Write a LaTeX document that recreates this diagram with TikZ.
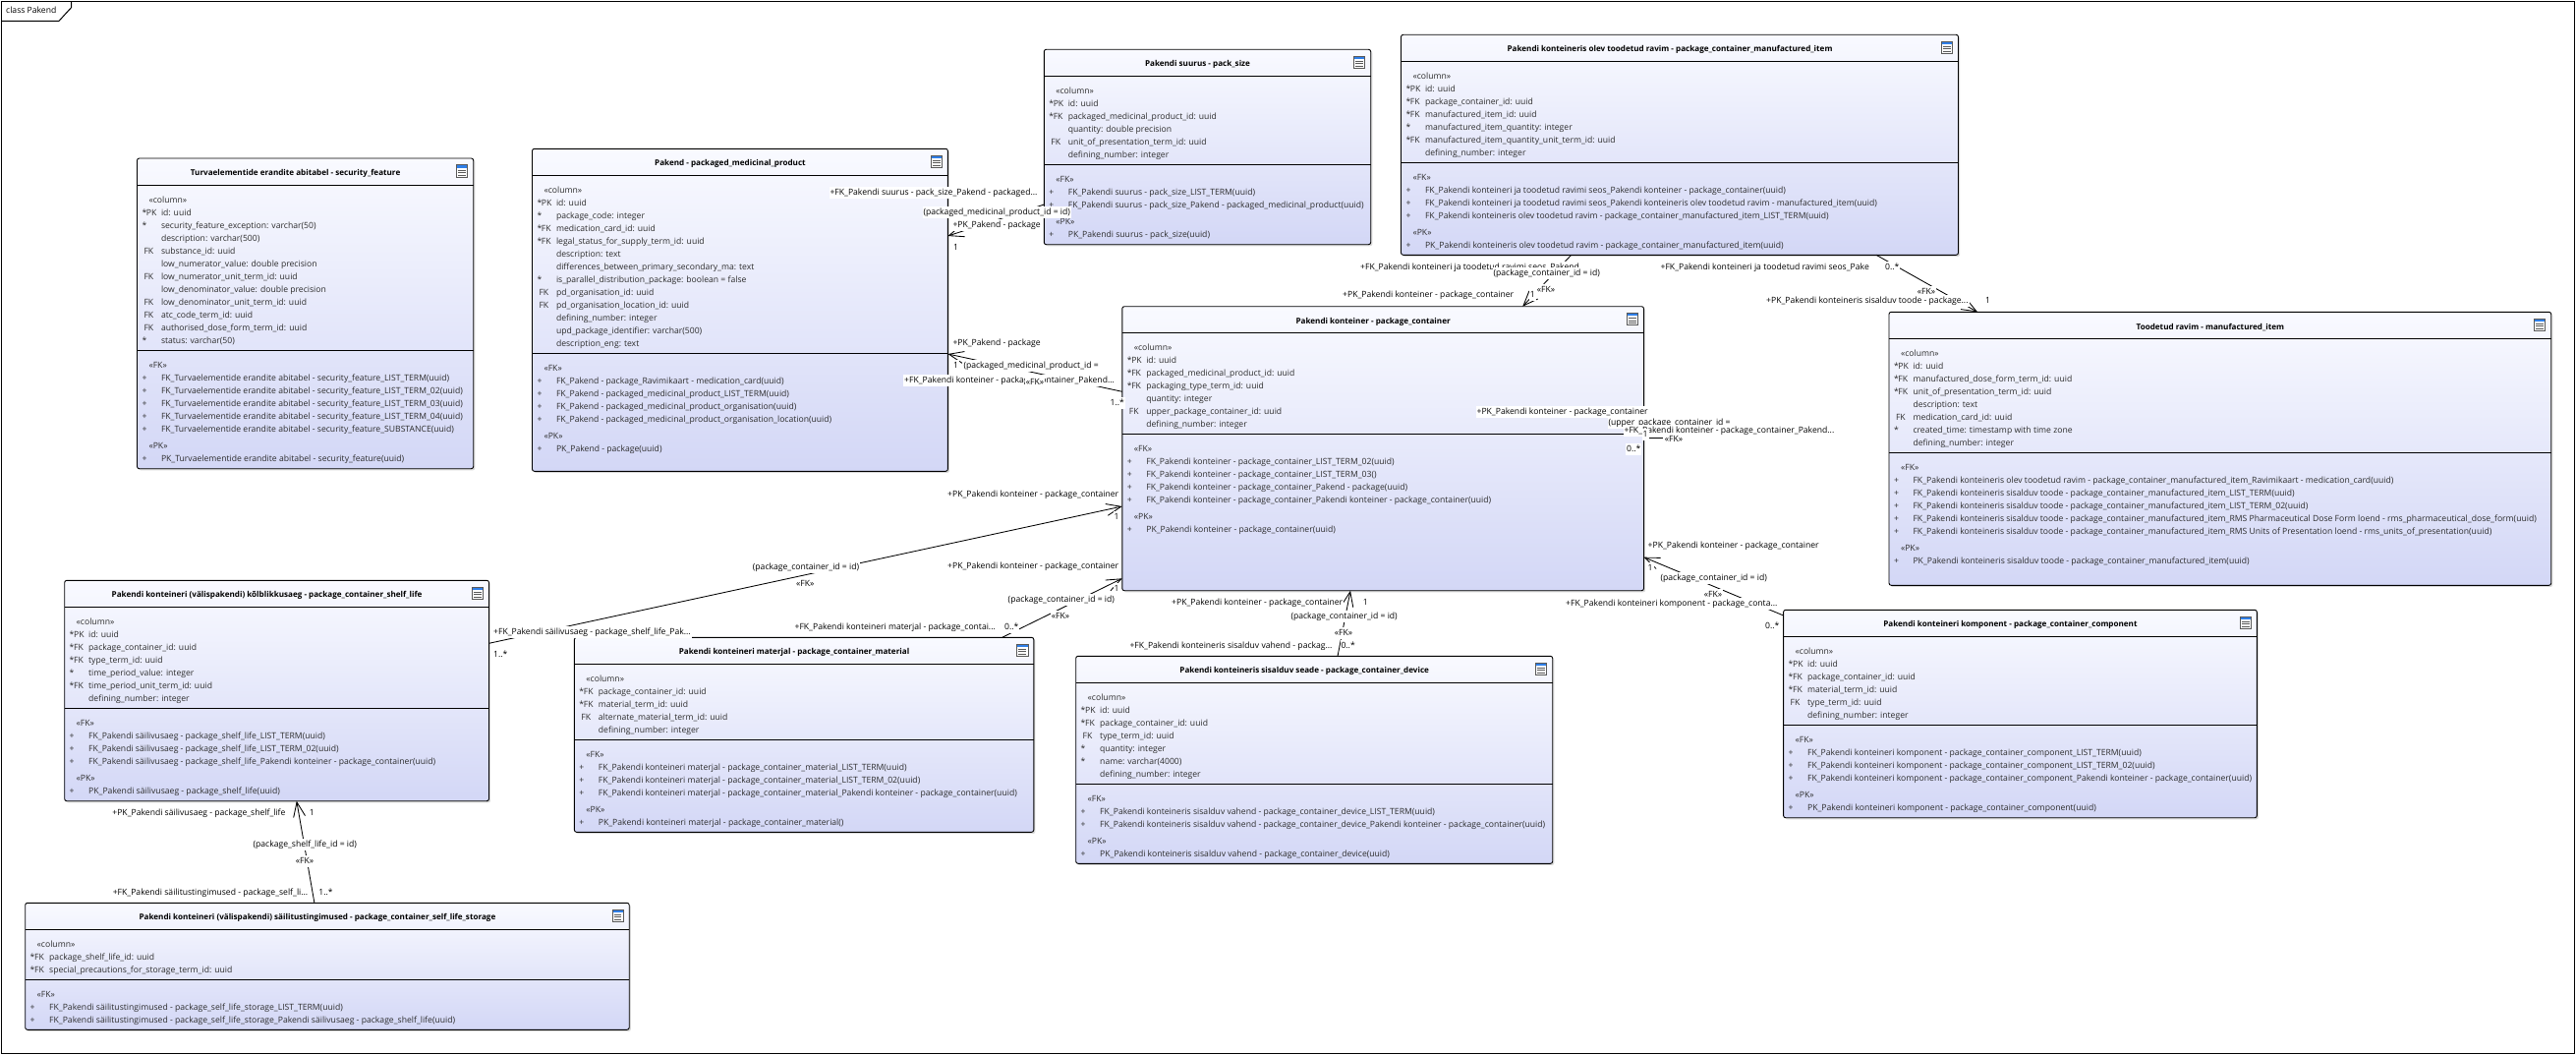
\documentclass[tikz,border=0pt]{standalone}
\usepackage{fontspec}
\setmainfont{Open Sans}
\usetikzlibrary{arrows.meta,shadows}
\definecolor{rowtext}{HTML}{2C2C2C}
\definecolor{boxtop}{HTML}{F9FAFF}
\definecolor{boxbot}{HTML}{D3D7F6}
\definecolor{iconblue}{HTML}{2F7FE8}
\newcommand{\rowfont}{\fontsize{8.62}{13}\selectfont}
\newcommand{\RS}[2]{\makebox[19.5pt][l]{*\hspace{-.3pt}#1}#2}
\newcommand{\RK}[2]{\makebox[19.5pt][l]{\hspace{2pt}#1}#2}
\newcommand{\RA}[1]{\makebox[19.5pt][l]{*}#1}
\newcommand{\RN}[1]{\makebox[19.5pt][l]{}#1}
\newcommand{\RP}[1]{\makebox[19.5pt][l]{+}#1}
\newcommand{\RH}[1]{\rule{0pt}{8pt}\hspace{7pt}«#1»}
\tikzset{
  tbl/.style={draw=black,line width=.9pt,rounded corners=2.2pt,outer sep=0pt,anchor=north west,inner sep=0pt,
    top color=boxtop,bottom color=boxbot,drop shadow={shadow xshift=1.6pt,shadow yshift=-1.6pt,fill=black!30,opacity=.5}},
  ttl/.style={font=\fontsize{8.1}{10}\selectfont\bfseries,text=black,inner sep=0pt},
  rows/.style={font=\rowfont,text=rowtext,align=left,anchor=north west,inner sep=0pt,outer sep=0pt},
  sepline/.style={line width=.9pt,draw=black},
  fk/.style={draw=black,line width=.85pt,-{Straight Barb[length=15pt,width=12pt,line width=.85pt]}},
  plain/.style={draw=black,line width=.85pt},
  lab/.style={fill=white,text=black,font=\fontsize{8.6}{10}\selectfont,inner sep=1pt,anchor=west,text height=7.5pt,text depth=2.5pt},
  cent/.style={lab,anchor=center},
}
% id x0 y0 x1 y1 tsep sep2 title columns
\newcommand{\umlclass}[9]{%
  \pgfmathsetmacro{\tw}{#4-#2}\pgfmathsetmacro{\th}{#5-#3}\pgfmathsetmacro{\tc}{(#2+#4)/2-10}\pgfmathsetmacro{\tm}{(#3+#6)/2+2}\pgfmathsetmacro{\ct}{#6+9.7}\pgfmathsetmacro{\cx}{#2+5}
  \node[tbl,minimum width=\tw pt,minimum height=\th pt] (#1) at (#2,#3) {};
  \draw[sepline] (#1.west |- 0,#6) -- (#1.east |- 0,#6);
  \draw[sepline] (#1.west |- 0,#7) -- (#1.east |- 0,#7);
  \node[ttl] (#1-title) at (\tc,\tm) {#8};
  \node[rows] (#1-cols) at (\cx,\ct) {#9};
  \begin{scope}[shift={(#1.north east)}]
    \fill[white] (-17.4,6.7) rectangle (-6,19);
    \fill[iconblue] (-17.4,6.7) rectangle (-6,9.7);
    \draw[black!65,line width=.6pt] (-17.4,6.7) rectangle (-6,19);
    \draw[black!65,line width=.6pt] (-15.6,12) -- (-7.8,12) (-15.6,14.4) -- (-7.8,14.4) (-15.6,16.8) -- (-7.8,16.8);
  \end{scope}
}
\newcommand{\umlops}[3]{%
  \pgfmathsetmacro{\ct}{#2+9.7}
  \node[rows] (#1-ops) at ([xshift=5pt]#1.west |- 0,\ct) {#3};
}
\begin{document}
\begin{tikzpicture}[x=1pt,y=-1pt]
\useasboundingbox (0,0) rectangle (2621,1073);
\fill[white] (0,0) rectangle (2621,1073);
% frame
\node[draw=black,line width=1pt,minimum width=2618.5pt,minimum height=1070.5pt,anchor=north west,inner sep=0pt,outer sep=0pt] (frame) at (1.2,1.2) {};
\draw[line width=1pt] (frame.west |- 0,21.3) -- (60,21.3) -- (72.7,7.5) -- (72.7,0 |- frame.north);
\node[lab,fill=none] (frametitle) at (5,10.7) {class Pakend};

\umlclass{sf}{139.5}{161}{481.7}{476.7}{188.3}{356.3}{Turvaelementide erandite abitabel - security\_feature}{%
\RH{column}\\
\RS{PK}{id: uuid}\\
\RA{security\_feature\_exception: varchar(50)}\\
\RN{description: varchar(500)}\\
\RK{FK}{substance\_id: uuid}\\
\RN{low\_numerator\_value: double precision}\\
\RK{FK}{low\_numerator\_unit\_term\_id: uuid}\\
\RN{low\_denominator\_value: double precision}\\
\RK{FK}{low\_denominator\_unit\_term\_id: uuid}\\
\RK{FK}{atc\_code\_term\_id: uuid}\\
\RK{FK}{authorised\_dose\_form\_term\_id: uuid}\\
\RA{status: varchar(50)}}
\umlops{sf}{356.3}{%
\RH{FK}\\
\RP{FK\_Turvaelementide erandite abitabel - security\_feature\_LIST\_TERM(uuid)}\\
\RP{FK\_Turvaelementide erandite abitabel - security\_feature\_LIST\_TERM\_02(uuid)}\\
\RP{FK\_Turvaelementide erandite abitabel - security\_feature\_LIST\_TERM\_03(uuid)}\\
\RP{FK\_Turvaelementide erandite abitabel - security\_feature\_LIST\_TERM\_04(uuid)}\\
\RP{FK\_Turvaelementide erandite abitabel - security\_feature\_SUBSTANCE(uuid)}\\[4.3pt]
\RH{PK}\\
\RP{PK\_Turvaelementide erandite abitabel - security\_feature(uuid)}}

\umlclass{pmp}{541.5}{151.3}{964.4}{479.3}{178.3}{359.3}{Pakend - packaged\_medicinal\_product}{%
\RH{column}\\
\RS{PK}{id: uuid}\\
\RA{package\_code: integer}\\
\RS{FK}{medication\_card\_id: uuid}\\
\RS{FK}{legal\_status\_for\_supply\_term\_id: uuid}\\
\RN{description: text}\\
\RN{differences\_between\_primary\_secondary\_ma: text}\\
\RA{is\_parallel\_distribution\_package: boolean = false}\\
\RK{FK}{pd\_organisation\_id: uuid}\\
\RK{FK}{pd\_organisation\_location\_id: uuid}\\
\RN{defining\_number: integer}\\
\RN{upd\_package\_identifier: varchar(500)}\\
\RN{description\_eng: text}}
\umlops{pmp}{359.3}{%
\RH{FK}\\
\RP{FK\_Pakend - package\_Ravimikaart - medication\_card(uuid)}\\
\RP{FK\_Pakend - packaged\_medicinal\_product\_LIST\_TERM(uuid)}\\
\RP{FK\_Pakend - packaged\_medicinal\_product\_organisation(uuid)}\\
\RP{FK\_Pakend - packaged\_medicinal\_product\_organisation\_location(uuid)}\\[4.3pt]
\RH{PK}\\
\RP{PK\_Pakend - package(uuid)}}

\umlclass{ps}{1062.3}{50.3}{1394.7}{248.7}{77.3}{167.3}{Pakendi suurus - pack\_size}{%
\RH{column}\\
\RS{PK}{id: uuid}\\
\RS{FK}{packaged\_medicinal\_product\_id: uuid}\\
\RN{quantity: double precision}\\
\RK{FK}{unit\_of\_presentation\_term\_id: uuid}\\
\RN{defining\_number: integer}}
\umlops{ps}{167.3}{%
\RH{FK}\\
\RP{FK\_Pakendi suurus - pack\_size\_LIST\_TERM(uuid)}\\
\RP{FK\_Pakendi suurus - pack\_size\_Pakend - packaged\_medicinal\_product(uuid)}\\[4.3pt]
\RH{PK}\\
\RP{PK\_Pakendi suurus - pack\_size(uuid)}}

\umlclass{pcmi}{1425.5}{35.3}{1992.5}{259.3}{62.3}{165.3}{Pakendi konteineris olev toodetud ravim - package\_container\_manufactured\_item}{%
\RH{column}\\
\RS{PK}{id: uuid}\\
\RS{FK}{package\_container\_id: uuid}\\
\RS{FK}{manufactured\_item\_id: uuid}\\
\RA{manufactured\_item\_quantity: integer}\\
\RS{FK}{manufactured\_item\_quantity\_unit\_term\_id: uuid}\\
\RN{defining\_number: integer}}
\umlops{pcmi}{165.3}{%
\RH{FK}\\
\RP{FK\_Pakendi konteineri ja toodetud ravimi seos\_Pakendi konteiner - package\_container(uuid)}\\
\RP{FK\_Pakendi konteineri ja toodetud ravimi seos\_Pakendi konteineris olev toodetud ravim - manufactured\_item(uuid)}\\
\RP{FK\_Pakendi konteineris olev toodetud ravim - package\_container\_manufactured\_item\_LIST\_TERM(uuid)}\\[4.3pt]
\RH{PK}\\
\RP{PK\_Pakendi konteineris olev toodetud ravim - package\_container\_manufactured\_item(uuid)}}

\umlclass{pc}{1141.8}{311.7}{1672.5}{600.7}{338.3}{441.3}{Pakendi konteiner - package\_container}{%
\RH{column}\\
\RS{PK}{id: uuid}\\
\RS{FK}{packaged\_medicinal\_product\_id: uuid}\\
\RS{FK}{packaging\_type\_term\_id: uuid}\\
\RN{quantity: integer}\\
\RK{FK}{upper\_package\_container\_id: uuid}\\
\RN{defining\_number: integer}}
\umlops{pc}{441.3}{%
\RH{FK}\\
\RP{FK\_Pakendi konteiner - package\_container\_LIST\_TERM\_02(uuid)}\\
\RP{FK\_Pakendi konteiner - package\_container\_LIST\_TERM\_03()}\\
\RP{FK\_Pakendi konteiner - package\_container\_Pakend - package(uuid)}\\
\RP{FK\_Pakendi konteiner - package\_container\_Pakendi konteiner - package\_container(uuid)}\\[4.3pt]
\RH{PK}\\
\RP{PK\_Pakendi konteiner - package\_container(uuid)}}

\umlclass{mi}{1922}{317.3}{2595.7}{595.3}{344.3}{460.3}{Toodetud ravim - manufactured\_item}{%
\RH{column}\\
\RS{PK}{id: uuid}\\
\RS{FK}{manufactured\_dose\_form\_term\_id: uuid}\\
\RS{FK}{unit\_of\_presentation\_term\_id: uuid}\\
\RN{description: text}\\
\RK{FK}{medication\_card\_id: uuid}\\
\RA{created\_time: timestamp with time zone}\\
\RN{defining\_number: integer}}
\umlops{mi}{460.3}{%
\RH{FK}\\
\RP{FK\_Pakendi konteineris olev toodetud ravim - package\_container\_manufactured\_item\_Ravimikaart - medication\_card(uuid)}\\
\RP{FK\_Pakendi konteineris sisalduv toode - package\_container\_manufactured\_item\_LIST\_TERM(uuid)}\\
\RP{FK\_Pakendi konteineris sisalduv toode - package\_container\_manufactured\_item\_LIST\_TERM\_02(uuid)}\\
\RP{FK\_Pakendi konteineris sisalduv toode - package\_container\_manufactured\_item\_RMS Pharmaceutical Dose Form loend - rms\_pharmaceutical\_dose\_form(uuid)}\\
\RP{FK\_Pakendi konteineris sisalduv toode - package\_container\_manufactured\_item\_RMS Units of Presentation loend - rms\_units\_of\_presentation(uuid)}\\[4.3pt]
\RH{PK}\\
\RP{PK\_Pakendi konteineris sisalduv toode - package\_container\_manufactured\_item(uuid)}}

\umlclass{sl}{65.7}{590.3}{497.5}{814.7}{617.3}{720.3}{Pakendi konteineri (välispakendi) kõlblikkusaeg - package\_container\_shelf\_life}{%
\RH{column}\\
\RS{PK}{id: uuid}\\
\RS{FK}{package\_container\_id: uuid}\\
\RS{FK}{type\_term\_id: uuid}\\
\RA{time\_period\_value: integer}\\
\RS{FK}{time\_period\_unit\_term\_id: uuid}\\
\RN{defining\_number: integer}}
\umlops{sl}{720.3}{%
\RH{FK}\\
\RP{FK\_Pakendi säilivusaeg - package\_shelf\_life\_LIST\_TERM(uuid)}\\
\RP{FK\_Pakendi säilivusaeg - package\_shelf\_life\_LIST\_TERM\_02(uuid)}\\
\RP{FK\_Pakendi säilivusaeg - package\_shelf\_life\_Pakendi konteiner - package\_container(uuid)}\\[4.3pt]
\RH{PK}\\
\RP{PK\_Pakendi säilivusaeg - package\_shelf\_life(uuid)}}

\umlclass{st}{25.7}{918.3}{640.2}{1047.3}{945.3}{996.3}{Pakendi konteineri (välispakendi) säilitustingimused - package\_container\_self\_life\_storage}{%
\RH{column}\\
\RS{FK}{package\_shelf\_life\_id: uuid}\\
\RS{FK}{special\_precautions\_for\_storage\_term\_id: uuid}}
\umlops{st}{996.3}{%
\RH{FK}\\
\RP{FK\_Pakendi säilitustingimused - package\_self\_life\_storage\_LIST\_TERM(uuid)}\\
\RP{FK\_Pakendi säilitustingimused - package\_self\_life\_storage\_Pakendi säilivusaeg - package\_shelf\_life(uuid)}}

\umlclass{mat}{584.4}{648.3}{1051.8}{846.3}{675.3}{752.3}{Pakendi konteineri materjal - package\_container\_material}{%
\RH{column}\\
\RS{FK}{package\_container\_id: uuid}\\
\RS{FK}{material\_term\_id: uuid}\\
\RK{FK}{alternate\_material\_term\_id: uuid}\\
\RN{defining\_number: integer}}
\umlops{mat}{752.3}{%
\RH{FK}\\
\RP{FK\_Pakendi konteineri materjal - package\_container\_material\_LIST\_TERM(uuid)}\\
\RP{FK\_Pakendi konteineri materjal - package\_container\_material\_LIST\_TERM\_02(uuid)}\\
\RP{FK\_Pakendi konteineri materjal - package\_container\_material\_Pakendi konteiner - package\_container(uuid)}\\[4.3pt]
\RH{PK}\\
\RP{PK\_Pakendi konteineri materjal - package\_container\_material()}}

\umlclass{dev}{1094.7}{667.3}{1579.7}{878.3}{694.3}{797.3}{Pakendi konteineris sisalduv seade - package\_container\_device}{%
\RH{column}\\
\RS{PK}{id: uuid}\\
\RS{FK}{package\_container\_id: uuid}\\
\RK{FK}{type\_term\_id: uuid}\\
\RA{quantity: integer}\\
\RA{name: varchar(4000)}\\
\RN{defining\_number: integer}}
\umlops{dev}{797.3}{%
\RH{FK}\\
\RP{FK\_Pakendi konteineris sisalduv vahend - package\_container\_device\_LIST\_TERM(uuid)}\\
\RP{FK\_Pakendi konteineris sisalduv vahend - package\_container\_device\_Pakendi konteiner - package\_container(uuid)}\\[4.3pt]
\RH{PK}\\
\RP{PK\_Pakendi konteineris sisalduv vahend - package\_container\_device(uuid)}}

\umlclass{comp}{1814.6}{620.3}{2296.3}{831.7}{647.3}{737.3}{Pakendi konteineri komponent - package\_container\_component}{%
\RH{column}\\
\RS{PK}{id: uuid}\\
\RS{FK}{package\_container\_id: uuid}\\
\RS{FK}{material\_term\_id: uuid}\\
\RK{FK}{type\_term\_id: uuid}\\
\RN{defining\_number: integer}}
\umlops{comp}{737.3}{%
\RH{FK}\\
\RP{FK\_Pakendi konteineri komponent - package\_container\_component\_LIST\_TERM(uuid)}\\
\RP{FK\_Pakendi konteineri komponent - package\_container\_component\_LIST\_TERM\_02(uuid)}\\
\RP{FK\_Pakendi konteineri komponent - package\_container\_component\_Pakendi konteiner - package\_container(uuid)}\\[4.3pt]
\RH{PK}\\
\RP{PK\_Pakendi konteineri komponent - package\_container\_component(uuid)}}

% connectors
\coordinate (selfend) at (1692,445);
\draw[fk] (ps.west |- 0,208) -- (pmp.east |- 0,240);
\draw[fk] (pc.west |- 0,398.3) -- (pmp.east |- 0,360);
\draw[fk] (1598.7,0 |- pcmi.south) -- (1549.2,0 |- pc.north);
\draw[fk] (1909,0 |- pcmi.south) -- (2012,0 |- mi.north);
\draw[plain] (pc.east |- 0,445) -- (selfend);
\draw[fk] (sl.east |- 0,654.3) -- (pc.west |- 0,515);
\draw[fk] (1019.7,0 |- mat.north) -- (pc.west |- 0,588.3);
\draw[fk] (1361,0 |- dev.north) -- (1374,0 |- pc.south);
\draw[fk] (comp.west |- 0,626) -- (pc.east |- 0,566.7);
\draw[fk] (319.9,0 |- st.north) -- (301.8,0 |- sl.south);

% connector labels
\node[lab] (a1) at (843.3,195.7) {+FK\_Pakendi suurus - pack\_size\_Pakend - packaged...};
\node[lab] (a2) at (968.3,229) {+PK\_Pakend - package};
\node[lab] (a3) at (938.3,215.7) {(packaged\_medicinal\_product\_id = id)};
\node[lab] (a4) at (969,252) {1};

\node[lab] (b1) at (968.3,349) {+PK\_Pakend - package};
\node[lab] (b2) at (969,372) {1};
\node[lab] (b3) at (979.3,372) {(packaged\_medicinal\_product\_id =};
\node[lab] (b4) at (919,387) {+FK\_Pakendi konteiner - package\_container\_Pakend...};
\node[cent] (b5) at (1053,388.7) {«FK»};
\node[lab] (b6) at (1128.5,410) {1..*};

\node[lab] (c1) at (1383,271.7) {+FK\_Pakendi konteineri ja toodetud ravimi seos\_Pakend...};
\node[lab] (c2) at (1518.4,277.7) {(package\_container\_id = id)};
\node[cent] (c3) at (1573,295) {«FK»};
\node[lab] (c4) at (1365,300) {+PK\_Pakendi konteiner - package\_container};
\node[lab] (c5) at (1555.7,300) {1};

\node[lab] (d1) at (1688.4,271.7) {+FK\_Pakendi konteineri ja toodetud ravimi seos\_Pake};
\node[lab] (d2) at (1917,271.7) {0..*};
\node[cent] (d3) at (1960,297) {«FK»};
\node[lab] (d4) at (1796,306) {+PK\_Pakendi konteineris sisalduv toode - package...};
\node[lab] (d5) at (2019,306) {1};

\node[lab] (e1) at (1501.4,419) {+PK\_Pakendi konteiner - package\_container};
\node[lab] (e2) at (1635.4,430) {(upper\_package\_container\_id =};
\node[lab] (e3) at (1651.4,438) {+FK\_Pakendi konteiner - package\_container\_Pakend...};
\node[lab] (e4) at (1670.5,442) {1};
\node[cent] (e5) at (1703,447) {«FK»};
\node[lab] (e6) at (1654,457) {0..*};

\node[lab] (f1) at (501,643) {+FK\_Pakendi säilivusaeg - package\_shelf\_life\_Pak...};
\node[lab] (f2) at (501,665.7) {1..*};
\node[lab] (f3) at (764.7,576.7) {(package\_container\_id = id)};
\node[cent] (f4) at (819.3,594) {«FK»};
\node[lab] (f5) at (963,502.7) {+PK\_Pakendi konteiner - package\_container};
\node[lab] (f6) at (1132.5,526) {1};

\node[lab] (g1) at (807.4,638) {+FK\_Pakendi konteineri materjal - package\_contai...};
\node[lab] (g2) at (1021,638) {0..*};
\node[lab] (g3) at (1024.5,610) {(package\_container\_id = id)};
\node[cent] (g4) at (1079,627) {«FK»};
\node[lab] (g5) at (963,576) {+PK\_Pakendi konteiner - package\_container};
\node[lab] (g6) at (1132.5,599.3) {1};

\node[lab] (h1) at (1191,612.7) {+PK\_Pakendi konteiner - package\_container};
\node[lab] (h2) at (1385.7,612.7) {1};
\node[lab] (h3) at (1312.3,626.7) {(package\_container\_id = id)};
\node[cent] (h4) at (1367,643.7) {«FK»};
\node[lab] (h5) at (1148.3,656.7) {+FK\_Pakendi konteineris sisalduv vahend - packag...};
\node[lab] (h6) at (1363.3,656.7) {0..*};

\node[lab] (i1) at (1675.5,555) {+PK\_Pakendi konteiner - package\_container};
\node[lab] (i2) at (1675.5,578.3) {1};
\node[lab] (i3) at (1688.4,587.7) {(package\_container\_id = id)};
\node[cent] (i4) at (1743,605) {«FK»};
\node[lab] (i5) at (1592,614) {+FK\_Pakendi konteineri komponent - package\_conta...};
\node[lab] (i6) at (1794.9,637) {0..*};

\node[lab] (j1) at (113.2,826.7) {+PK\_Pakendi säilivusaeg - package\_shelf\_life};
\node[lab] (j2) at (313.6,826.7) {1};
\node[lab] (j3) at (256.4,859) {(package\_shelf\_life\_id = id)};
\node[cent] (j4) at (310,875.7) {«FK»};
\node[lab] (j5) at (113.6,907.7) {+FK\_Pakendi säilitustingimused - package\_self\_li...};
\node[lab] (j6) at (323.2,907.7) {1..*};
\end{tikzpicture}
\end{document}
